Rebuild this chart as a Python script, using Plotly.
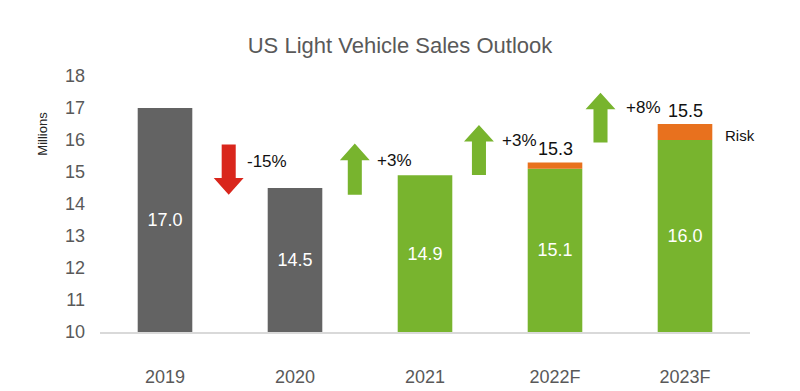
import numpy as np
import plotly.graph_objects as go

# ---- data ----
categories = ["2019", "2020", "2021", "2022F", "2023F"]
base_values = [17.0, 14.5, 14.9, 15.1, 16.0]
base_labels = ["17.0", "14.5", "14.9", "15.1", "16.0"]
risk_values = [0.0, 0.0, 0.0, 0.2, 0.5]
top_labels = ["", "", "", "15.3", "15.5"]
bar_kinds = ["actual", "actual", "green", "green", "green"]

change_labels = ["-15%", "+3%", "+3%", "+8%"]
change_dirs = ["down", "up", "up", "up"]
# arrow anchor positions (category index, y from / to in millions)
arrow_x = [0.49, 1.46, 2.415, 3.35]
arrow_y_from = [15.86, 14.29, 14.91, 15.92]
arrow_y_to = [14.29, 15.89, 16.47, 17.48]
label_x = [0.615, 1.615, 2.575, 3.53]
label_y = [15.34, 15.37, 15.98, 17.02]

Y_MIN, Y_MAX = 10, 18
GRAY = "#636363"
GREEN = "#78b42e"
ORANGE = "#e8711e"
RED = "#d9261c"
TEXT = "#595959"
FONT = "Liberation Sans, Arial, sans-serif"

colors = [GRAY if k == "actual" else GREEN for k in bar_kinds]
base_arr = np.array(base_values)
risk_arr = np.array(risk_values)

fig = go.Figure()
fig.add_trace(go.Bar(
    x=categories, y=base_arr - Y_MIN, base=[Y_MIN] * len(categories),
    marker=dict(color=colors, line=dict(width=0)),
    text=base_labels, textposition="inside", insidetextanchor="middle",
    textfont=dict(color="white", size=18, family=FONT),
    width=0.42, showlegend=False, hoverinfo="skip",
))
fig.add_trace(go.Bar(
    x=categories, y=risk_arr, base=base_arr,
    marker=dict(color=ORANGE, line=dict(width=0)),
    width=0.42, showlegend=False, hoverinfo="skip",
))

# top labels
for c, b, r, t in zip(categories, base_values, risk_values, top_labels):
    if t:
        fig.add_annotation(x=c, y=b + r, text=t, showarrow=False, yanchor="bottom",
                           yshift=1, font=dict(size=18, color="#111111", family=FONT))

# Risk label
fig.add_annotation(x=4.29, y=base_values[4] + risk_values[4] / 2 - 0.1, xref="x", yref="y",
                   text="Risk", showarrow=False, xanchor="left",
                   font=dict(size=15, color="#111111", family=FONT))

# block arrows
head_w, shaft_w, head_len = 0.115, 0.054, 0.52
for x0, yf, yt, d in zip(arrow_x, arrow_y_from, arrow_y_to, change_dirs):
    col = RED if d == "down" else GREEN
    s = 1 if yt > yf else -1
    hb = yt - s * head_len
    path = (f"M {x0-shaft_w},{yf} L {x0+shaft_w},{yf} L {x0+shaft_w},{hb} "
            f"L {x0+head_w},{hb} L {x0},{yt} L {x0-head_w},{hb} L {x0-shaft_w},{hb} Z")
    fig.add_shape(type="path", path=path, xref="x", yref="y",
                  fillcolor=col, line=dict(width=0))

for lx, ly, t in zip(label_x, label_y, change_labels):
    fig.add_annotation(x=lx, y=ly, xref="x", yref="y", text=t, showarrow=False,
                       xanchor="left", font=dict(size=17, color="#111111", family=FONT))

# Millions axis label
fig.add_annotation(x=-0.088, y=0.774, xref="paper", yref="paper", text="Millions",
                   textangle=-90, showarrow=False, xanchor="center", yanchor="middle",
                   font=dict(size=13, color="#262626", family=FONT))

fig.update_layout(
    width=800, height=391,
    margin=dict(l=92, r=58, t=68, b=62),
    paper_bgcolor="white", plot_bgcolor="white",
    barmode="overlay",
    title=dict(text="US Light Vehicle Sales Outlook", x=(400 - 8) / 800, xanchor="center",
               y=1 - 37 / 391, yanchor="middle",
               font=dict(size=22, color=TEXT, family=FONT)),
    font=dict(family=FONT, color=TEXT),
    xaxis=dict(showgrid=False, showline=True, linecolor="#d9d9d9", linewidth=1.5,
               ticks="", tickfont=dict(size=18, color=TEXT), ticklabelstandoff=28,
               range=[-0.5, 4.5], zeroline=False),
    yaxis=dict(range=[Y_MIN, Y_MAX], dtick=1, showgrid=False, showline=False,
               zeroline=False, ticks="", tickfont=dict(size=18, color=TEXT),
               ticklabelstandoff=14),
)

fig.write_html("out.html")
